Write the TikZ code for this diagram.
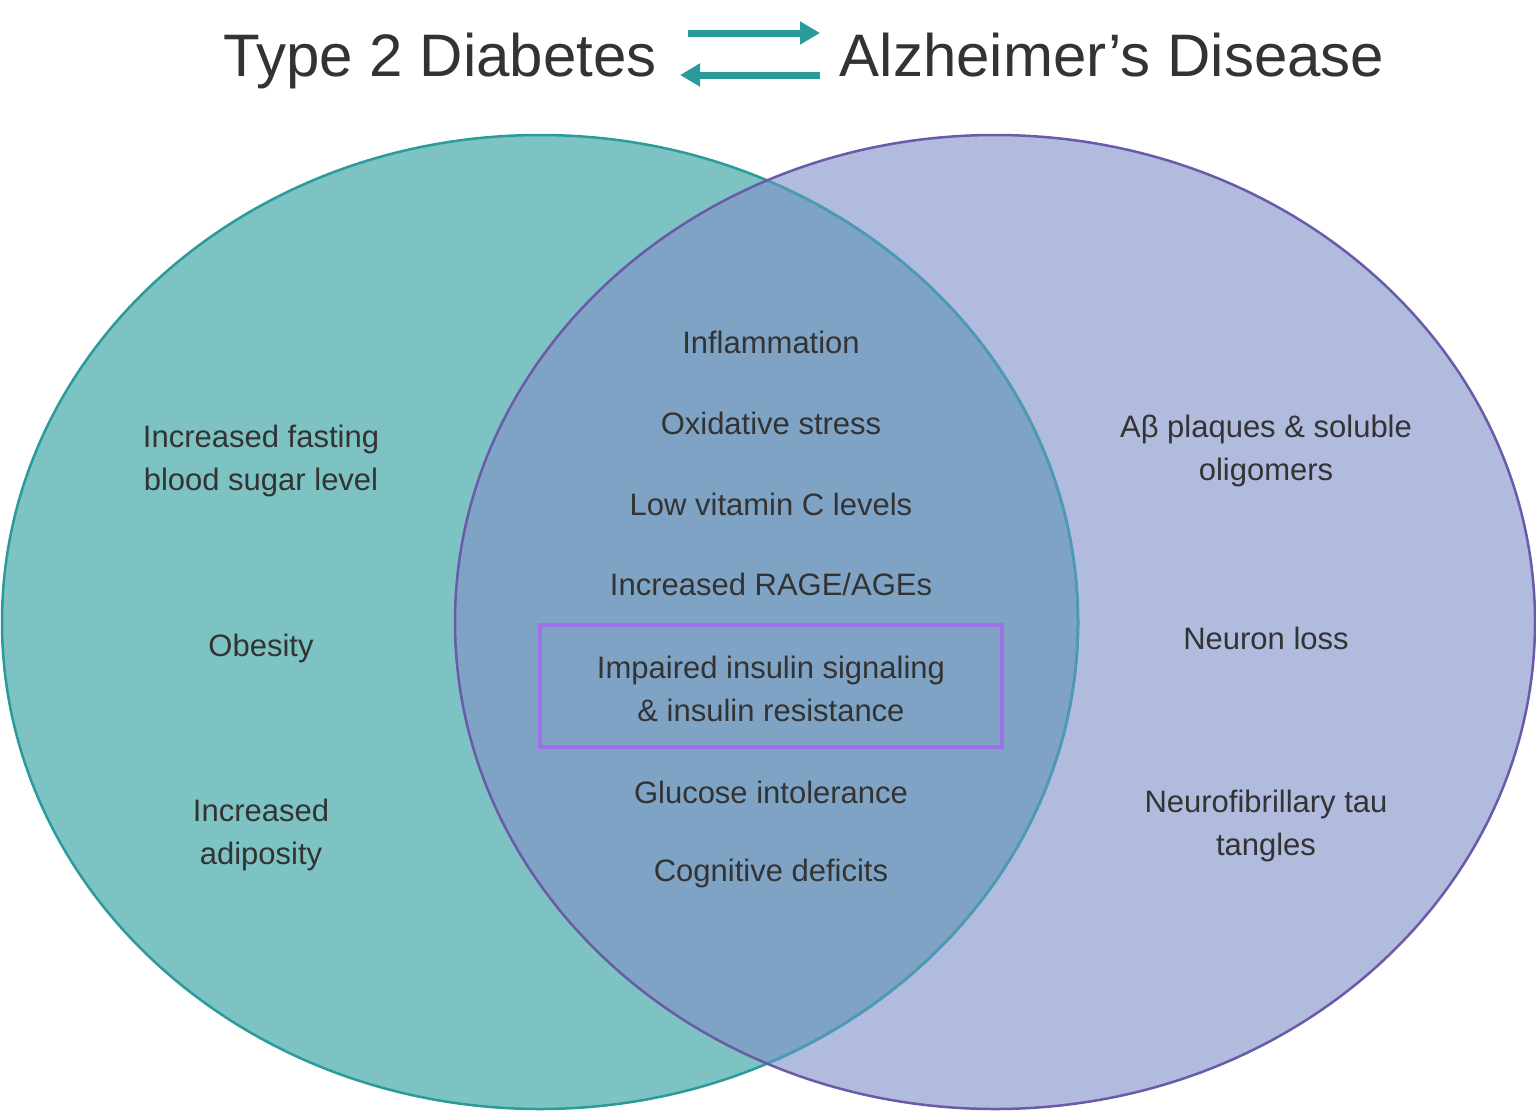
\documentclass[tikz,border=0pt]{standalone}
\usepackage{fontspec}
\setmainfont{Liberation Sans}
\usetikzlibrary{arrows.meta}
\definecolor{tfill}{HTML}{7DC3C3}
\definecolor{tline}{HTML}{2A9A9A}
\definecolor{pfill}{HTML}{B0BBDD}
\definecolor{pline}{HTML}{6A5AAA}
\definecolor{ofill}{HTML}{7FA3C4}
\definecolor{oline}{HTML}{4E98B8}
\definecolor{boxc}{HTML}{A070E8}
\definecolor{txt}{HTML}{333333}
\begin{document}
\begin{tikzpicture}[x=1pt,y=-1pt,
  lab/.style={font=\fontsize{31}{43}\selectfont,text=txt,align=center},
  ttl/.style={font=\fontsize{60}{70}\selectfont,text=txt,anchor=base},
  arr/.style={line width=7pt,tline,-{Triangle[length=20pt,width=22pt]}}]
\useasboundingbox (0,0) rectangle (1536,1111);
\fill[tfill] (540,622) ellipse [x radius=538,y radius=487];
\fill[pfill] (995,622) ellipse [x radius=540,y radius=487];
\begin{scope}
\clip (540,622) ellipse [x radius=538,y radius=487];
\fill[ofill] (995,622) ellipse [x radius=540,y radius=487];
\end{scope}
\draw[tline,line width=2.5pt] (540,622) ellipse [x radius=538,y radius=487];
\begin{scope}
\clip (995,622) ellipse [x radius=540,y radius=487];
\draw[oline,line width=2.5pt] (540,622) ellipse [x radius=538,y radius=487];
\end{scope}
\draw[pline,line width=2.5pt] (995,622) ellipse [x radius=540,y radius=487];
\node[ttl] (t1) at (440,76) {Type 2 Diabetes};
\node[ttl] (t2) at (1112,76) {Alzheimer’s Disease};
\coordinate (a1) at (688,33); \coordinate (a2) at (820,33);
\coordinate (b1) at (820,75); \coordinate (b2) at (680,75);
\draw[arr] (a1) -- (a2);
\draw[arr] (b1) -- (b2);
\node[lab] (l1) at (261,461) {Increased fasting\\blood sugar level};
\node[lab] (l2) at (261,648) {Obesity};
\node[lab] (l3) at (261,835) {Increased\\adiposity};
\node[lab] (r1) at (1266,451) {Aβ plaques \& soluble\\oligomers};
\node[lab] (r2) at (1266,638) {Neuron loss};
\node[lab] (r3) at (1266,826) {Neurofibrillary tau\\tangles};
\node[lab] (c1) at (771,342) {Inflammation};
\node[lab] (c2) at (771,423) {Oxidative stress};
\node[lab] (c3) at (771,504) {Low vitamin C levels};
\node[lab] (c4) at (771,584) {Increased RAGE/AGEs};
\node[lab] (c5) at (771,689) {Impaired insulin signaling\\\& insulin resistance};
\draw[boxc,line width=4.5pt] (540,625) rectangle (1002,747);
\node[lab] (c6) at (771,792) {Glucose intolerance};
\node[lab] (c7) at (771,873) {Cognitive deficits};
\end{tikzpicture}
\end{document}
